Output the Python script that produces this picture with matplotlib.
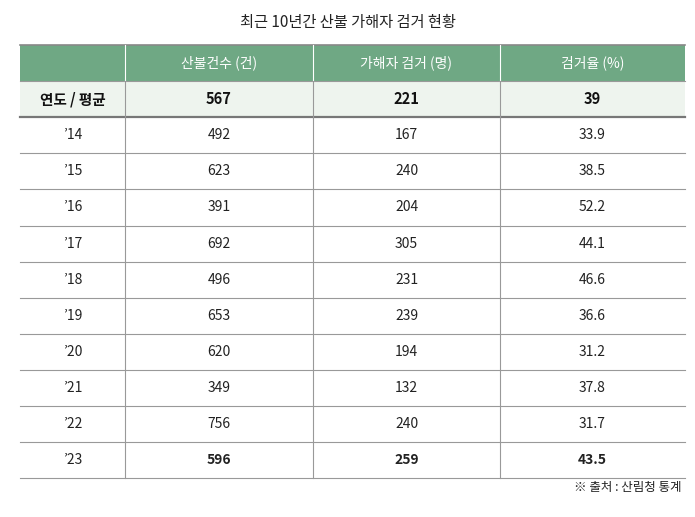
import matplotlib
matplotlib.use("Agg")
import matplotlib.pyplot as plt
from matplotlib.patches import Rectangle

plt.rcParams["font.family"] = "Noto Sans CJK KR"

title = "최근 10년간 산불 가해자 검거 현황"
headers = ["", "산불건수 (건)", "가해자 검거 (명)", "검거율 (%)"]
avg_label = "연도 / 평균"
avg_values = ["567", "221", "39"]
years = ["’14", "’15", "’16", "’17", "’18", "’19", "’20", "’21", "’22", "’23"]
fires = ["492", "623", "391", "692", "496", "653", "620", "349", "756", "596"]
arrests = ["167", "240", "204", "305", "231", "239", "194", "132", "240", "259"]
rates = ["33.9", "38.5", "52.2", "44.1", "46.6", "36.6", "31.2", "37.8", "31.7", "43.5"]
source = "※ 출처 : 산림청 통계"

W, H = 695, 517
fig = plt.figure(figsize=(W/100, H/100), dpi=100)
ax = fig.add_axes([0, 0, 1, 1])
ax.set_xlim(0, W); ax.set_ylim(H, 0); ax.axis("off")

cols = [20, 125, 313, 500, 685]
centers = [(cols[i]+cols[i+1])/2 for i in range(4)]
top, rh = 45, 36.1

ax.text(W/2, 22, title, ha="center", va="center", fontsize=11, color="#222")
# header
ax.add_patch(Rectangle((cols[0], top), cols[-1]-cols[0], rh, color="#6fa884", lw=0))
for c, h in zip(centers, headers):
    ax.text(c, top+rh/2, h, ha="center", va="center", fontsize=10, color="white")
# avg row
y1 = top+rh
ax.add_patch(Rectangle((cols[0], y1), cols[-1]-cols[0], rh, color="#eef4ee", lw=0))
ax.text(centers[0], y1+rh/2, avg_label, ha="center", va="center", fontsize=10.5, fontweight="bold", color="#111")
for c, v in zip(centers[1:], avg_values):
    ax.text(c, y1+rh/2, v, ha="center", va="center", fontsize=10.5, fontweight="bold", color="#111")

n = len(years)
for i in range(n):
    y = top + rh*(i+2)
    bold = "bold" if i == n-1 else "normal"
    ax.text(centers[0], y+rh/2, years[i], ha="center", va="center", fontsize=10, color="#222")
    for c, v in zip(centers[1:], [fires[i], arrests[i], rates[i]]):
        ax.text(c, y+rh/2, v, ha="center", va="center", fontsize=10, fontweight=bold, color="#222")

bottom = top + rh*(n+2)
# horizontal lines
ax.plot([cols[0], cols[-1]], [top, top], color="#888", lw=1.2)
for k in range(1, n+3):
    yy = top + rh*k
    lw = 1.6 if k == 2 else 0.8
    col = "#777" if k == 2 else "#999"
    ax.plot([cols[0], cols[-1]], [yy, yy], color=col, lw=lw)
# vertical lines
for x in cols[1:-1]:
    ax.plot([x, x], [top, top+rh], color="white", lw=0.8)
    ax.plot([x, x], [top+rh, bottom], color="#999", lw=0.8)

ax.text(682, 488, source, ha="right", va="center", fontsize=9, color="#222")
fig.savefig("out.png", dpi=100)
